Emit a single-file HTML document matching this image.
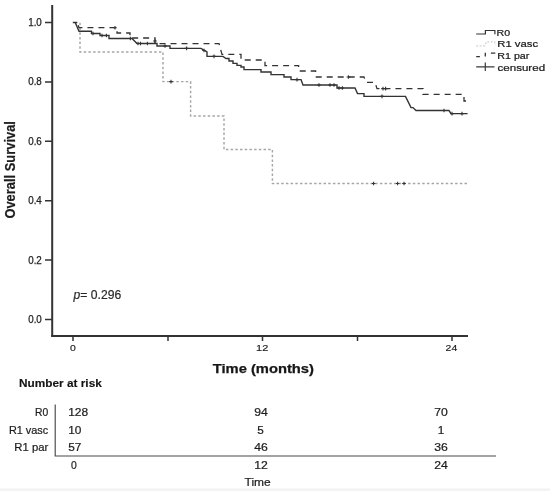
<!DOCTYPE html>
<html lang="en">
<head>
<meta charset="utf-8">
<title>Overall Survival</title>
<style>
html,body{margin:0;padding:0;background:#fff;}
body{width:550px;height:491px;overflow:hidden;position:relative;}
svg{display:block;position:absolute;left:0;top:0;}
text{font-family:"Liberation Sans",Arial,sans-serif;}
.b{font-weight:bold;}
</style>
</head>
<body>
<svg width="550" height="491" viewBox="0 0 550 491" fill="#2a2a2a">
<rect x="0" y="0" width="550" height="491" fill="#ffffff"/>
<rect x="0" y="488.4" width="550" height="2.6" fill="#f3f3f3"/>

<!-- axes -->
<g stroke="#333" fill="none" stroke-linecap="butt">
  <path d="M52.2,5 V336.8" stroke-width="2"/>
  <path d="M51.2,336 H468" stroke-width="2"/>
  <g stroke-width="1.5">
    <path d="M45,22.5 H52 M45,81.9 H52 M45,141.3 H52 M45,200.7 H52 M45,260.1 H52 M45,319.6 H52"/>
    <path d="M73,336 V341 M168,336 V341 M262.5,336 V341 M357.5,336 V341 M452,336 V341"/>
  </g>
</g>

<!-- y tick labels -->
<g font-size="10.4" text-anchor="end" fill="#222" stroke="#222" stroke-width="0.25">
  <text x="41.8" y="26" textLength="13.6" lengthAdjust="spacingAndGlyphs">1.0</text>
  <text x="41.8" y="85.4" textLength="13.6" lengthAdjust="spacingAndGlyphs">0.8</text>
  <text x="41.8" y="144.8" textLength="13.6" lengthAdjust="spacingAndGlyphs">0.6</text>
  <text x="41.8" y="204.2" textLength="13.6" lengthAdjust="spacingAndGlyphs">0.4</text>
  <text x="41.8" y="263.6" textLength="13.6" lengthAdjust="spacingAndGlyphs">0.2</text>
  <text x="41.8" y="323.1" textLength="13.6" lengthAdjust="spacingAndGlyphs">0.0</text>
</g>

<!-- x tick labels -->
<g font-size="8.6" text-anchor="middle" fill="#222" stroke="#222" stroke-width="0.15">
  <text x="72.8" y="350.6" textLength="5.8" lengthAdjust="spacingAndGlyphs">0</text>
  <text x="262.2" y="350.6" textLength="12.2" lengthAdjust="spacingAndGlyphs">12</text>
  <text x="451.4" y="350.6" textLength="11.6" lengthAdjust="spacingAndGlyphs">24</text>
</g>

<text class="b" x="212.7" y="373" font-size="13" textLength="101.3" lengthAdjust="spacingAndGlyphs" fill="#161616" stroke="#161616" stroke-width="0.25">Time (months)</text>
<text class="b" transform="translate(14.7,218.6) rotate(-90)" font-size="14" textLength="97.5" lengthAdjust="spacingAndGlyphs" fill="#1c1c1c" stroke="#1c1c1c" stroke-width="0.2">Overall Survival</text>

<text x="73.6" y="299.2" font-size="12" textLength="47.6" lengthAdjust="spacingAndGlyphs" fill="#2a2a2a" stroke="#2a2a2a" stroke-width="0.2"><tspan font-style="italic">p</tspan>= 0.296</text>

<!-- curves -->
<g fill="none" stroke-linejoin="miter">
  <!-- R1 vasc dotted -->
  <path d="M80,22.8 V52 H163 V81.6 H190.6 V116 H224 V149.5 H272.4 V183.5 H468" stroke="#a6a6a6" stroke-width="1.45" stroke-dasharray="2.5 2.2"/>
  <!-- R1 par dashed -->
  <path d="M77.3,22.5 L79,27.7 H117 V33 H130 V38 H155 V43.6 H219 L222,54.4 H241 V60 H265 V65.6 H298.6 V71 H315.6 V77 H364 L366,82.4 H375 L377,88.6 H423 V94.4 H464 V101 H468" stroke="#333" stroke-width="1.3" stroke-dasharray="6 5" stroke-dashoffset="8.1"/>
  <!-- R0 solid -->
  <path d="M72.8,22.5 H77.3 M75.2,22.5 L79,31.3 H91.5 V33.5 H100 V35.5 H109 V38.5 H132 L137,43.5 H157 V46 H170 V48.4 H201 L207,52 V56.4 H223 L226,58.5 H229 V61 H233 V63.4 H237 V65.4 H241 V67 H244 V69.6 H261 V72 H271 V74.6 H284 V77 H291 V79.6 H301 L303,85 H337 V88 H355 L357.5,93.6 H364 V96.4 H405.5 L411,107.6 H413 L416,110.5 H449 L451,113.6 H467.6" stroke="#333" stroke-width="1.4"/>
</g>

<!-- censor marks -->
<g stroke="#333" stroke-width="1.1" fill="none">
  <path d="M91.2,33.5 H94.8 M93,31.7 V35.3 M100.2,35.5 H103.8 M102,33.7 V37.3 M104.6,35.5 H108.2 M106.4,33.7 V37.3 M128.6,38.5 H132.2 M130.4,36.7 V40.3 M136.2,43.5 H139.8 M138,41.7 V45.3 M138.7,43.5 H142.3 M140.5,41.7 V45.3 M145.6,43.5 H149.2 M147.4,41.7 V45.3 M163.2,46 H166.8 M165,44.2 V47.8 M184.8,48.4 H188.4 M186.6,46.6 V50.2 M202.2,50.5 H205.8 M204,48.7 V52.3 M212.2,56.4 H215.8 M214,54.6 V58.2 M295.2,79.6 H298.8 M297,77.8 V81.4 M317.2,85 H320.8 M319,83.2 V86.8 M328.2,85 H331.8 M330,83.2 V86.8 M332.2,85 H335.8 M334,83.2 V86.8 M337.2,88 H340.8 M339,86.2 V89.8 M340.6,88 H344.2 M342.4,86.2 V89.8 M380.2,96.4 H383.8 M382,94.6 V98.2 M442.2,110.5 H445.8 M444,108.7 V112.3 M450.2,113.6 H453.8 M452,111.8 V115.4 M460.2,113.6 H463.8 M462,111.8 V115.4 M113.2,27.7 H116.8 M115,25.9 V29.5 M153.2,41 H156.8 M155,39.2 V42.8 M346.6,77 H350.2 M348.4,75.2 V78.8 M381.2,88.6 H384.8 M383,86.8 V90.4 M383.8,88.6 H387.4 M385.6,86.8 V90.4 M169.2,81.6 H172.8 M171,79.8 V83.4 M371.8,183.5 H375.4 M373.6,181.7 V185.3 M395.8,183.5 H399.4 M397.6,181.7 V185.3 M402.2,183.5 H405.8 M404,181.7 V185.3"/>
</g>

<!-- legend -->
<g fill="none">
  <path d="M476.2,34 H485.4 V30.5 H494.9 V34.2" stroke="#333" stroke-width="1.2"/>
  <path d="M476.2,45.8 H484.6 L486.6,41.9 H494.6 L495.6,45" stroke="#cfcfcf" stroke-width="1.2" stroke-dasharray="1.8 1.6"/>
  <path d="M476.2,56.6 H479.9 M485.3,52.8 V56.4 M490.9,53.1 H495.3" stroke="#333" stroke-width="1.3"/>
  <path d="M476.2,66.8 H494.5 M485.3,62.6 V70.9" stroke="#3a3a3a" stroke-width="1.2"/>
</g>
<g font-size="8.3" fill="#1a1a1a" stroke="#1a1a1a" stroke-width="0.2">
  <text x="496.6" y="36" textLength="13.6" lengthAdjust="spacingAndGlyphs">R0</text>
  <text x="497.3" y="47.4" textLength="40.8" lengthAdjust="spacingAndGlyphs">R1 vasc</text>
  <text x="497.3" y="59.4" textLength="32" lengthAdjust="spacingAndGlyphs">R1 par</text>
  <text x="497.5" y="70.8" textLength="47.6" lengthAdjust="spacingAndGlyphs">censured</text>
</g>

<!-- number at risk -->
<text class="b" x="19.1" y="387.3" font-size="11.6" textLength="82.7" lengthAdjust="spacingAndGlyphs" fill="#141414" stroke="#141414" stroke-width="0.15">Number at risk</text>
<path d="M55.2,404.4 V456 H496" fill="none" stroke="#484848" stroke-width="1.15"/>
<g font-size="11.7" fill="#1c1c1c" stroke="#1c1c1c" stroke-width="0.22">
  <text x="48.3" y="416.3" text-anchor="end" textLength="13.2" lengthAdjust="spacingAndGlyphs">R0</text>
  <text x="48.3" y="433.6" text-anchor="end" textLength="39.4" lengthAdjust="spacingAndGlyphs">R1 vasc</text>
  <text x="48.3" y="450.8" text-anchor="end" textLength="34" lengthAdjust="spacingAndGlyphs">R1 par</text>

  <text x="68.2" y="416.3" textLength="20" lengthAdjust="spacingAndGlyphs">128</text>
  <text x="68.2" y="433.6" textLength="13.2" lengthAdjust="spacingAndGlyphs">10</text>
  <text x="68.2" y="450.8" textLength="13.2" lengthAdjust="spacingAndGlyphs">57</text>
  <text x="70.9" y="468.6" textLength="5.8" lengthAdjust="spacingAndGlyphs">0</text>

  <text x="261" y="416.3" text-anchor="middle" textLength="13.6" lengthAdjust="spacingAndGlyphs">94</text>
  <text x="260.6" y="433.6" text-anchor="middle">5</text>
  <text x="261" y="450.8" text-anchor="middle" textLength="13.6" lengthAdjust="spacingAndGlyphs">46</text>
  <text x="261" y="468.6" text-anchor="middle" textLength="13.6" lengthAdjust="spacingAndGlyphs">12</text>
  <text x="257.6" y="486" text-anchor="middle" textLength="26.2" lengthAdjust="spacingAndGlyphs">Time</text>

  <text x="441" y="416.3" text-anchor="middle" textLength="13.6" lengthAdjust="spacingAndGlyphs">70</text>
  <text x="441" y="433.6" text-anchor="middle">1</text>
  <text x="441" y="450.8" text-anchor="middle" textLength="13.6" lengthAdjust="spacingAndGlyphs">36</text>
  <text x="441" y="468.6" text-anchor="middle" textLength="13.6" lengthAdjust="spacingAndGlyphs">24</text>
</g>
</svg>
</body>
</html>
